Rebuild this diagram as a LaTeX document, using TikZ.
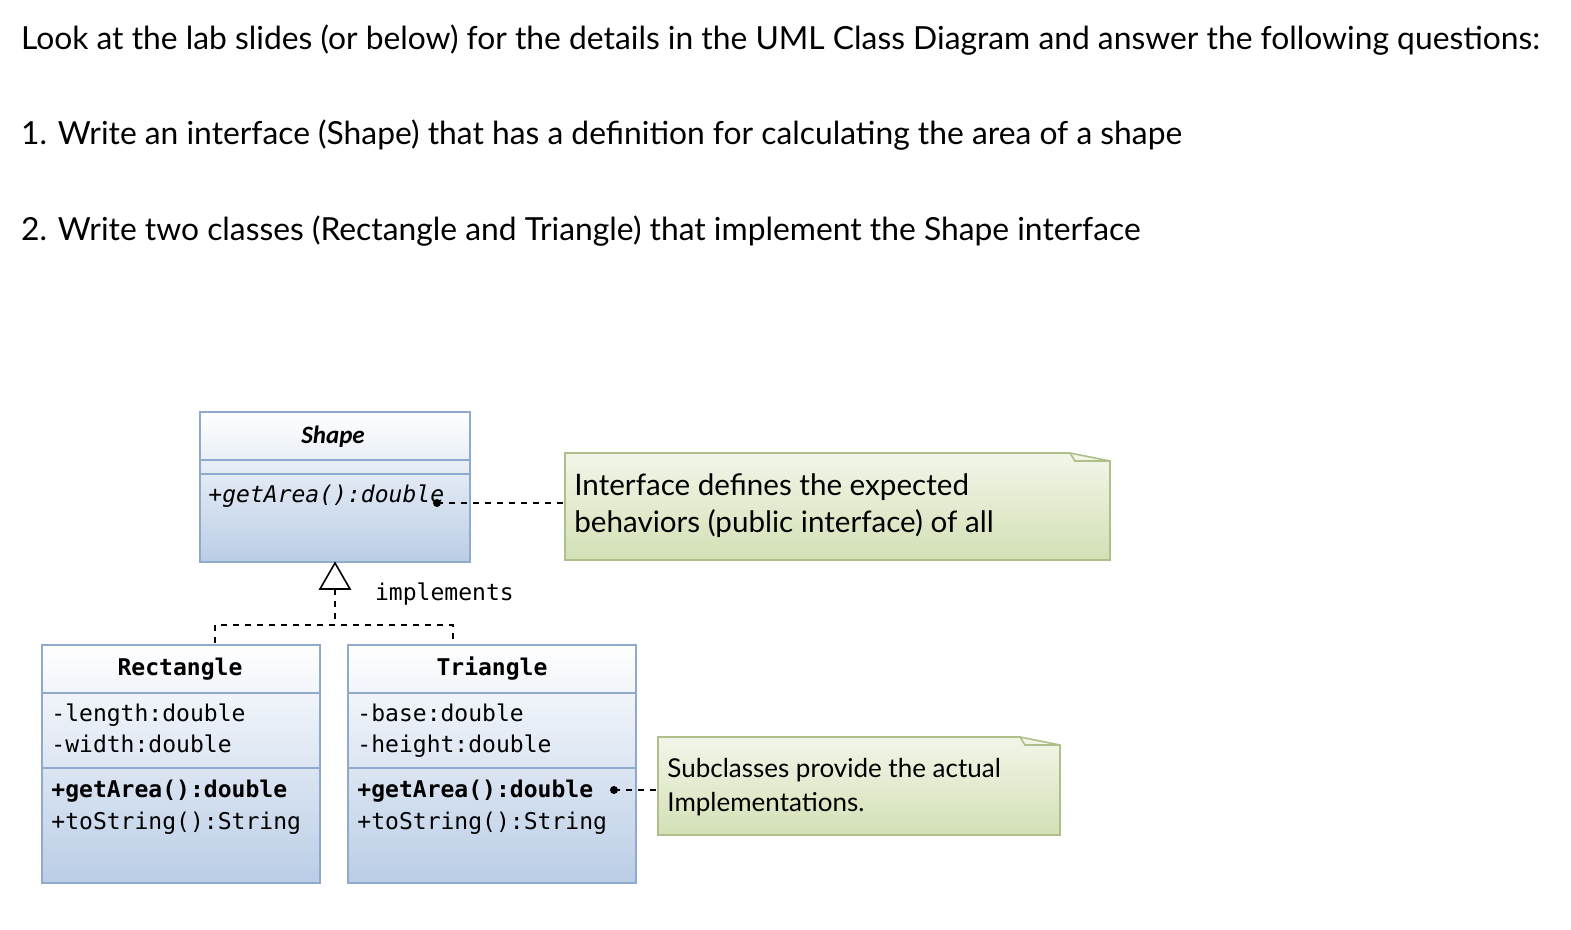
\documentclass[tikz,border=0pt]{standalone}
\usepackage{fontspec}
\setmainfont{Lato}
\newfontfamily\cls{Carlito}
\newfontfamily\mono{DejaVu Sans Mono}[Scale=0.9]
\definecolor{bx}{HTML}{8FAACC}
\definecolor{bb}{HTML}{BACDE6}
\definecolor{gb}{HTML}{D3E0B5}
\definecolor{gl}{HTML}{AFBF8A}
\begin{document}
\begin{tikzpicture}[x=0.5pt,y=-0.5pt,
  box/.style={draw=bx,line width=0.8pt,top color=white,bottom color=bb},
  note/.style={draw=gl,line width=0.8pt,top color=white!40!gb!50,bottom color=gb},
  sep/.style={draw=bx,line width=0.8pt},
  dl/.style={dashed,line width=0.7pt},
  q/.style={anchor=west,font=\fontsize{15.9}{18}\selectfont},
  m/.style={anchor=base west,font=\mono\fontsize{12.8}{14}\selectfont,inner sep=0pt}]
\useasboundingbox (0,0) rectangle (1571,930);
\node[q] (t1) at (14,40) {Look at the lab slides (or below) for the details in the UML Class Diagram and answer the following questions:};
\node[q] (t2) at (14,135) {1. Write an interface (Shape) that has a definition for calculating the area of a shape};
\node[q] (t3) at (14,231) {2. Write two classes (Rectangle and Triangle) that implement the Shape interface};
% Shape
\path[box] (200,412) rectangle (470,562);
\draw[sep] (200,460) -- (470,460) (200,474) -- (470,474);
\node[font=\cls\bfseries\itshape\fontsize{12.5}{14}\selectfont] (sn) at (333,437) {Shape};
\node[m,font=\mono\itshape\fontsize{12.8}{14}\selectfont] (sg) at (208,503) {+getArea():double};
\coordinate (d1) at (437,503);
\fill (d1) circle (2pt);
% note 1
\path[note] (565,453) -- (1070,453) -- (1110,461) -- (1110,560) -- (565,560) -- cycle;
\draw[gl,line width=0.8pt] (1070,453) -- (1075,461) -- (1110,461);
\node[anchor=west,font=\fontsize{14.8}{18.5}\selectfont,align=left,inner sep=0pt] (n1) at (574,506) {Interface defines the expected\\behaviors (public interface) of all};
\draw[dl] (d1) -- (565,503);
% Rectangle
\path[box] (42,645) rectangle (320,883);
\draw[sep] (42,693) -- (320,693) (42,768) -- (320,768);
\node[font=\mono\bfseries\fontsize{12.8}{14}\selectfont] (rn) at (180,669) {Rectangle};
\node[m] at (51,722) {-length:double};
\node[m] at (51,753) {-width:double};
\node[m,font=\mono\bfseries\fontsize{12.8}{14}\selectfont] at (51,798) {+getArea():double};
\node[m] at (51,829) {+toString():String};
% Triangle
\path[box] (348,645) rectangle (636,883);
\draw[sep] (348,693) -- (636,693) (348,768) -- (636,768);
\node[font=\mono\bfseries\fontsize{12.8}{14}\selectfont] (tn) at (492,669) {Triangle};
\node[m] at (357,722) {-base:double};
\node[m] at (357,753) {-height:double};
\node[m,font=\mono\bfseries\fontsize{12.8}{14}\selectfont] at (357,798) {+getArea():double};
\node[m] at (357,829) {+toString():String};
\coordinate (d2) at (614,790);
\fill (d2) circle (2pt);
% note 2
\path[note] (658,737) -- (1020,737) -- (1060,745) -- (1060,835) -- (658,835) -- cycle;
\draw[gl,line width=0.8pt] (1020,737) -- (1025,745) -- (1060,745);
\node[anchor=west,font=\fontsize{13}{17}\selectfont,align=left,inner sep=0pt] (n2) at (667,787) {Subclasses provide the actual\\Implementations.};
\draw[dl] (d2) -- (658,790);
% implements
\draw[line width=0.8pt,fill=white] (335,563) -- (350,589) -- (320,589) -- cycle;
\draw[dl] (335,589) -- (335,625);
\draw[dl] (215,643) -- (215,625) -- (453,625) -- (453,643);
\node[anchor=west,font=\mono\fontsize{12.8}{14}\selectfont] (im) at (368,594) {implements};
\end{tikzpicture}
\end{document}
